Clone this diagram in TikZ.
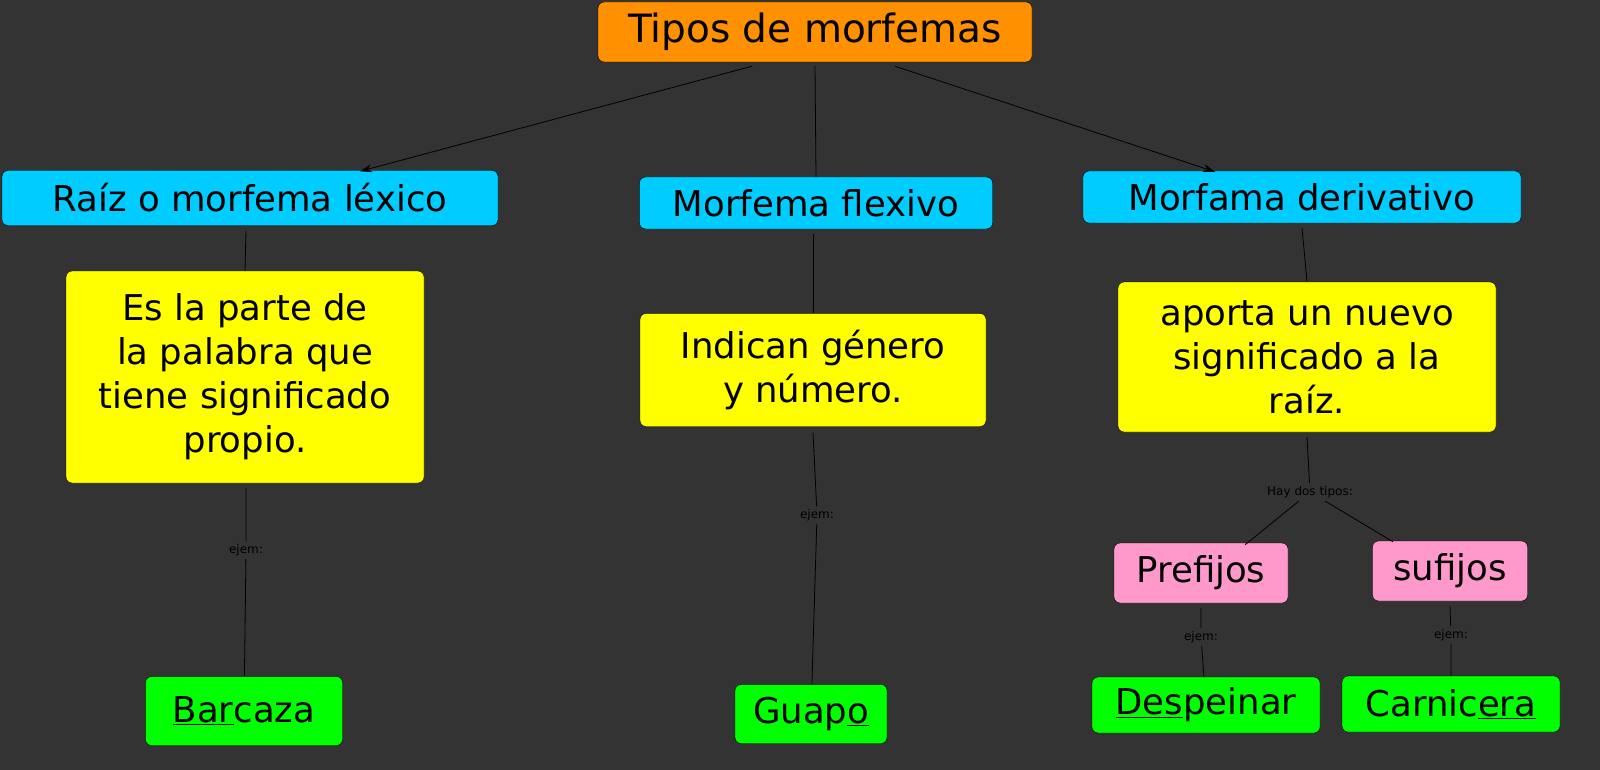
\documentclass[tikz,border=0pt]{standalone}
\usepackage{fontspec}
\setmainfont{DejaVu Sans}
\usetikzlibrary{arrows.meta}
\definecolor{bg}{HTML}{333333}
\definecolor{corange}{HTML}{FF9000}
\definecolor{ccyan}{HTML}{00CCFF}
\definecolor{cyellow}{HTML}{FFFF00}
\definecolor{cpink}{HTML}{FF99CC}
\definecolor{cgreen}{HTML}{00FF00}
\begin{document}
\begin{tikzpicture}[x=1pt,y=-1pt,
  box/.style={draw=black,rounded corners=6pt,inner sep=0pt,align=center,font=\fontsize{35.5}{44}\selectfont},
  lbl/.style={fill=bg,inner sep=3pt,font=\fontsize{12}{14}\selectfont,text=black},
  con/.style={draw=black,line width=0.8pt},
  arr/.style={con,-{Stealth[length=12pt,width=8pt]}}]
\fill[bg] (0,0) rectangle (1600,770);
\useasboundingbox (0,0) rectangle (1600,770);
\node[box,fill=corange,minimum width=434pt,minimum height=60pt,font=\fontsize{39}{44}\selectfont] (t) at (815,32) {Tipos de morfemas};
\node[box,fill=ccyan,minimum width=496pt,minimum height=55pt] (r) at (250,198) {Raíz o morfema léxico};
\node[box,fill=ccyan,minimum width=353pt,minimum height=52pt] (f) at (816,203) {Morfema flexivo};
\node[box,fill=ccyan,minimum width=438pt,minimum height=52pt] (d) at (1302,197) {Morfama derivativo};
\node[box,fill=cyellow,minimum width=358pt,minimum height=212pt] (y1) at (245,377) {Es la parte de\\la palabra que\\tiene significado\\propio.};
\node[box,fill=cyellow,minimum width=346pt,minimum height=113pt] (y2) at (813,370) {Indican género\\y número.};
\node[box,fill=cyellow,minimum width=378pt,minimum height=150pt] (y3) at (1307,357) {aporta un nuevo\\significado a la\\raíz.};
\node[box,fill=cpink,minimum width=174pt,minimum height=60pt] (p) at (1201,573) {Prefijos};
\node[box,fill=cpink,minimum width=155pt,minimum height=60pt] (s) at (1450,571) {sufijos};
\node[box,fill=cgreen,minimum width=197pt,minimum height=69pt] (g1) at (244,711) {\underline{Bar}caza};
\node[box,fill=cgreen,minimum width=152pt,minimum height=59pt] (g2) at (811,714) {Guap\underline{o}};
\node[box,fill=cgreen,minimum width=228pt,minimum height=56pt] (g3) at (1206,705) {\underline{Des}peinar};
\node[box,fill=cgreen,minimum width=218pt,minimum height=56pt] (g4) at (1451,704) {Carnic\underline{era}};
\node[lbl] (e1) at (246,550) {ejem:};
\node[lbl] (e2) at (817,515) {ejem:};
\node[lbl] (h) at (1310,492) {Hay dos tipos:};
\node[lbl] (e3) at (1201,637) {ejem:};
\node[lbl] (e4) at (1451,635) {ejem:};
\draw[arr] ([xshift=-63pt,yshift=-4pt]t.south) -- ([xshift=110pt,yshift=-1pt]r.north);
\draw[con] ([yshift=-4pt]t.south) -- (f.north);
\draw[arr] ([xshift=80pt,yshift=-4pt]t.south) -- ([xshift=-87pt,yshift=-1pt]d.north);
\draw[con] ([xshift=-4pt,yshift=-5pt]r.south) -- (y1.north);
\draw[con] ([xshift=-3pt,yshift=-5pt]f.south) -- (y2.north);
\draw[con] ([yshift=-5pt]d.south) -- (y3.north);
\draw[con] ([xshift=1pt,yshift=-5pt]y1.south) -- (e1) -- (g1);
\draw[con] ([yshift=-6pt]y2.south) -- (e2) -- (g2);
\draw[con] ([yshift=-5pt]y3.south) -- (h);
\draw[con] (h) -- ([xshift=44pt,yshift=-2pt]p.north);
\draw[con] (h) -- ([xshift=-57pt,yshift=-1pt]s.north);
\draw[con] ([yshift=-5pt]p.south) -- (e3) -- (g3);
\draw[con] ([yshift=-5pt]s.south) -- (e4) -- (g4);
\end{tikzpicture}
\end{document}
